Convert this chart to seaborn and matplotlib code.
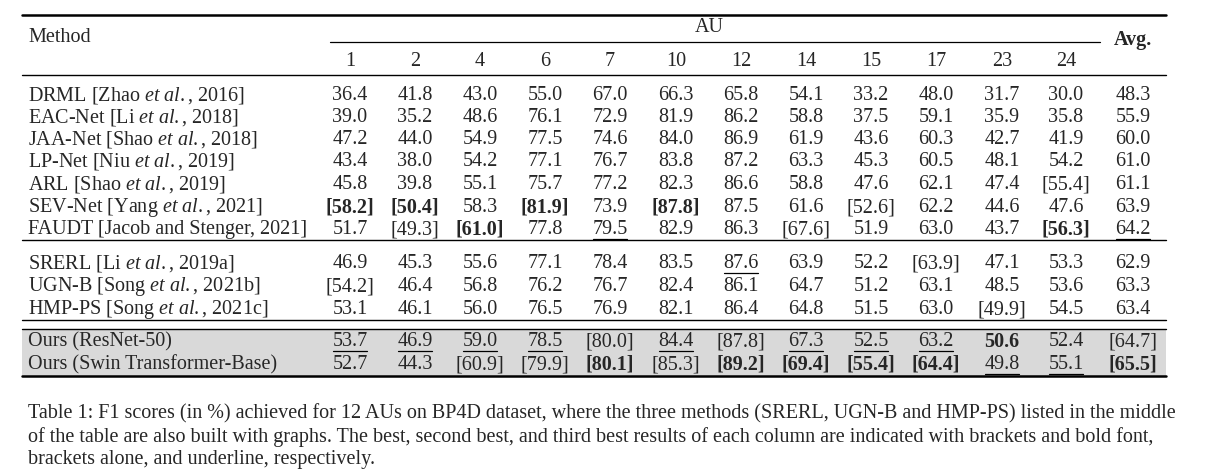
import matplotlib
matplotlib.use("Agg")
import matplotlib.pyplot as plt
import seaborn as sns

sns.set_theme(style="white")
plt.rcParams['font.family'] = ['Liberation Serif', 'DejaVu Serif']
plt.rcParams['mathtext.fontset'] = 'custom'
plt.rcParams['mathtext.rm'] = 'Liberation Serif'
plt.rcParams['mathtext.it'] = 'Liberation Serif:italic'
plt.rcParams['mathtext.bf'] = 'Liberation Serif:bold'

aus = ["1", "2", "4", "6", "7", "10", "12", "14", "15", "17", "23", "24"]
methods = [
    r"DRML [Zhao $\it{et\ al.}$, 2016]",
    r"EAC-Net [Li $\it{et\ al.}$, 2018]",
    r"JAA-Net [Shao $\it{et\ al.}$, 2018]",
    r"LP-Net [Niu $\it{et\ al.}$, 2019]",
    r"ARL [Shao $\it{et\ al.}$, 2019]",
    r"SEV-Net [Yang $\it{et\ al.}$, 2021]",
    "FAUDT [Jacob and Stenger, 2021]",
    r"SRERL [Li $\it{et\ al.}$, 2019a]",
    r"UGN-B [Song $\it{et\ al.}$, 2021b]",
    r"HMP-PS [Song $\it{et\ al.}$, 2021c]",
    "Ours (ResNet-50)",
    "Ours (Swin Transformer-Base)",
]
# '*' = bold, '_' = underline, brackets literal; last value is Avg.
scores = [
    ["36.4","41.8","43.0","55.0","67.0","66.3","65.8","54.1","33.2","48.0","31.7","30.0","48.3"],
    ["39.0","35.2","48.6","76.1","72.9","81.9","86.2","58.8","37.5","59.1","35.9","35.8","55.9"],
    ["47.2","44.0","54.9","77.5","74.6","84.0","86.9","61.9","43.6","60.3","42.7","41.9","60.0"],
    ["43.4","38.0","54.2","77.1","76.7","83.8","87.2","63.3","45.3","60.5","48.1","54.2","61.0"],
    ["45.8","39.8","55.1","75.7","77.2","82.3","86.6","58.8","47.6","62.1","47.4","[55.4]","61.1"],
    ["*[58.2]","*[50.4]","58.3","*[81.9]","73.9","*[87.8]","87.5","61.6","[52.6]","62.2","44.6","47.6","63.9"],
    ["51.7","[49.3]","*[61.0]","77.8","_79.5","82.9","86.3","[67.6]","51.9","63.0","43.7","*[56.3]","_64.2"],
    ["46.9","45.3","55.6","77.1","78.4","83.5","_87.6","63.9","52.2","[63.9]","47.1","53.3","62.9"],
    ["[54.2]","46.4","56.8","76.2","76.7","82.4","86.1","64.7","51.2","63.1","48.5","53.6","63.3"],
    ["53.1","46.1","56.0","76.5","76.9","82.1","86.4","64.8","51.5","63.0","[49.9]","54.5","63.4"],
    ["_53.7","_46.9","_59.0","_78.5","[80.0]","_84.4","[87.8]","_67.3","_52.5","_63.2","*50.6","52.4","[64.7]"],
    ["52.7","44.3","[60.9]","[79.9]","*[80.1]","[85.3]","*[89.2]","*[69.4]","*[55.4]","*[64.4]","_49.8","_55.1","*[65.5]"],
]
caption = [
    "Table 1: F1 scores (in %) achieved for 12 AUs on BP4D dataset, where the three methods (SRERL, UGN-B and HMP-PS) listed in the middle",
    "of the table are also built with graphs. The best, second best, and third best results of each column are indicated with brackets and bold font,",
    "brackets alone, and underline, respectively.",
]

fig = plt.figure(figsize=(12.05, 4.77), dpi=100)
ax = fig.add_axes([0, 0, 1, 1])
ax.set_xlim(0, 1205)
ax.set_ylim(477, 0)
ax.axis("off")

FS = 14.5
xcols = [350, 415, 480, 545, 610, 676, 741, 806, 871, 936, 1002, 1066, 1133]
row_y = [95, 117, 140, 162, 185, 208, 230, 264, 287, 310, 342, 365]
L, R = 22, 1166

ax.fill_between([L, R], 330, 377, color="#d9d9d9", lw=0, zorder=0)
for y, lw in [(16, 1.8), (76, 1.0), (241, 1.0), (321, 1.0), (330, 1.0), (377, 1.8)]:
    ax.plot([L, R], [y, y], color="black", lw=lw, zorder=2)
ax.plot([330, 1100], [43, 43], color="black", lw=0.9)

ax.text(28, 38, "Method", fontsize=FS, va="center", ha="left")
ax.text(709, 28, "AU", fontsize=FS, va="center", ha="center")
ax.text(1133, 40, "Avg.", fontsize=FS, va="center", ha="center", fontweight="bold")
for x, a in zip(xcols, aus):
    ax.text(x, 61, a, fontsize=FS, va="center", ha="center")

for y, m, vals in zip(row_y, methods, scores):
    ax.text(28, y, m, fontsize=FS, va="center", ha="left", zorder=3)
    for x, v in zip(xcols, vals):
        bold = v.startswith("*")
        und = v.startswith("_")
        s = v.lstrip("*_")
        ax.text(x, y, s, fontsize=FS, va="center", ha="center",
                fontweight="bold" if bold else "normal", zorder=3)
        if und:
            w = 17
            ax.plot([x - w, x + w], [y + 10, y + 10], color="black", lw=0.9, zorder=3)

for i, line in enumerate(caption):
    ax.text(28, 414 + 23 * i, line, fontsize=14.5, va="center", ha="left")

fig.savefig("out.png", dpi=100, facecolor="white")
